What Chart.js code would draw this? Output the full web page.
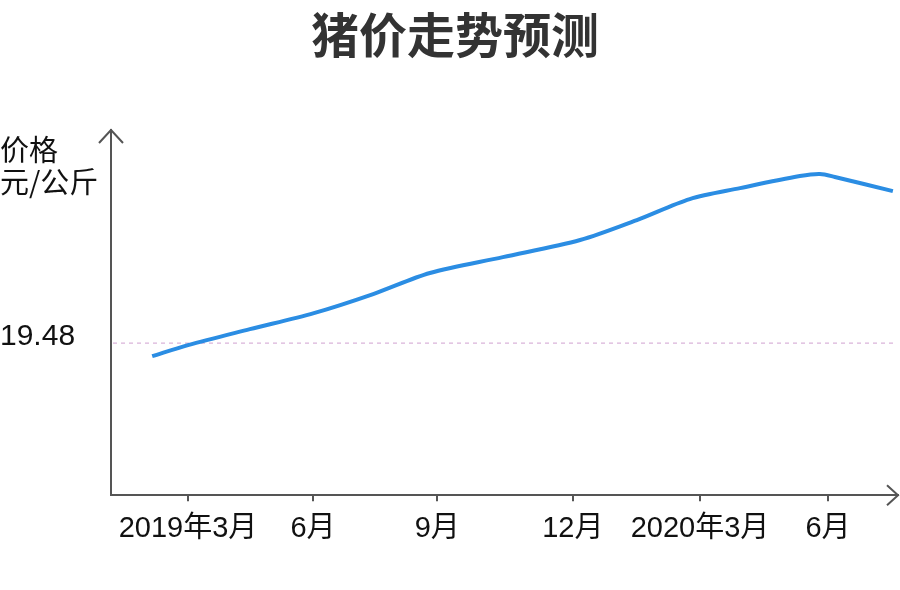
<!DOCTYPE html>
<html>
<head>
<meta charset="utf-8">
<script src="https://cdn.jsdelivr.net/npm/chart.js@4"></script>
<style>
	html, body { margin: 0; padding: 0; background: #fff; }
	#wrap { width: 900px; height: 590px; position: relative; }
	canvas { display: block; }
</style>
</head>
<body>
<div id="wrap"><canvas id="c" width="900" height="590"></canvas></div>
<script>
// months counted from 2019年3月 (= 0)
var months = [-0.84, 0, 1.45, 2.95, 4.34, 5.67, 7.38, 9.19, 10.52, 11.76, 12.94, 14.34, 14.81, 15.16, 16.52];
var prices = [18.61, 19.35, 20.41, 21.48, 22.75, 24.15, 25.21, 26.35, 27.68, 29.08, 29.81, 30.61, 30.75, 30.55, 29.61];
var tickMonths = [0, 2.93, 5.84, 9.02, 12, 15];
var tickLabels = ['2019年3月', '6月', '9月', '12月', '2020年3月', '6月'];
var refPrice = 19.48;
var title = '猪价走势预测';
var yTitle = ['价格', '元/公斤'];

var axisColor = '#555';
var latin = '"Liberation Sans", "Noto Sans CJK SC", sans-serif';

// arrows, title, reference line and texts around the axes
var decor = {
	id: 'decor',
	beforeDatasetsDraw: function(chart) {
		var ctx = chart.ctx, a = chart.chartArea, y = chart.scales.y;
		var py = y.getPixelForValue(refPrice);
		ctx.save();
		ctx.strokeStyle = '#e0c0e0';
		ctx.lineWidth = 1.5;
		ctx.setLineDash([4, 4]);
		ctx.beginPath();
		ctx.moveTo(a.left + 2, py);
		ctx.lineTo(a.right - 4, py);
		ctx.stroke();
		ctx.restore();
	},
	afterDraw: function(chart) {
		var ctx = chart.ctx, a = chart.chartArea, y = chart.scales.y;
		ctx.save();
		ctx.strokeStyle = axisColor;
		ctx.lineWidth = 2;
		ctx.beginPath();
		ctx.moveTo(a.left - 12, a.top + 13);
		ctx.lineTo(a.left, a.top);
		ctx.lineTo(a.left + 12, a.top + 13);
		ctx.moveTo(a.right - 11, a.bottom - 10);
		ctx.lineTo(a.right, a.bottom);
		ctx.lineTo(a.right - 11, a.bottom + 10);
		ctx.stroke();

		ctx.fillStyle = '#333';
		ctx.font = 'bold 48px "Noto Sans CJK SC", sans-serif';
		ctx.textAlign = 'center';
		ctx.textBaseline = 'middle';
		ctx.fillText(title, 455, 35);

		ctx.fillStyle = '#111';
		ctx.textAlign = 'left';
		ctx.font = '29px "Noto Sans CJK SC", sans-serif';
		ctx.fillText(yTitle[0], 0, 150);
		ctx.fillText(yTitle[1], 0, 182);

		ctx.font = '30px ' + latin;
		ctx.fillText(String(refPrice), 0, y.getPixelForValue(refPrice) - 6);
		ctx.restore();
	}
};

new Chart(document.getElementById('c'), {
	type: 'line',
	data: {
		datasets: [{
			data: months.map(function(m, i) { return {x: m, y: prices[i]}; }),
			borderColor: '#2b8de3',
			borderWidth: 4,
			pointRadius: 0,
			tension: 0.3,
			fill: false
		}]
	},
	options: {
		responsive: false,
		animation: false,
		devicePixelRatio: 1,
		layout: { padding: { left: 111, right: 2, top: 130, bottom: 34 } },
		plugins: { legend: { display: false }, tooltip: { enabled: false }, title: { display: false } },
		scales: {
			x: {
				type: 'linear',
				min: -1.805,
				max: 16.64,
				afterBuildTicks: function(axis) {
					axis.ticks = tickMonths.map(function(v) { return {value: v}; });
				},
				border: { display: true, color: axisColor, width: 2 },
				grid: { display: true, drawOnChartArea: false, drawTicks: true, tickLength: 6, color: axisColor, lineWidth: 2 },
				ticks: {
					autoSkip: false,
					maxRotation: 0,
					padding: 10,
					color: '#111',
					font: { family: latin, size: 29 },
					callback: function(v, i) { return tickLabels[i]; }
				}
			},
			y: {
				min: 9.35,
				max: 33.68,
				border: { display: true, color: axisColor, width: 2 },
				grid: { display: false, drawTicks: false },
				ticks: { display: false }
			}
		}
	},
	plugins: [decor]
});
</script>
</body>
</html>
